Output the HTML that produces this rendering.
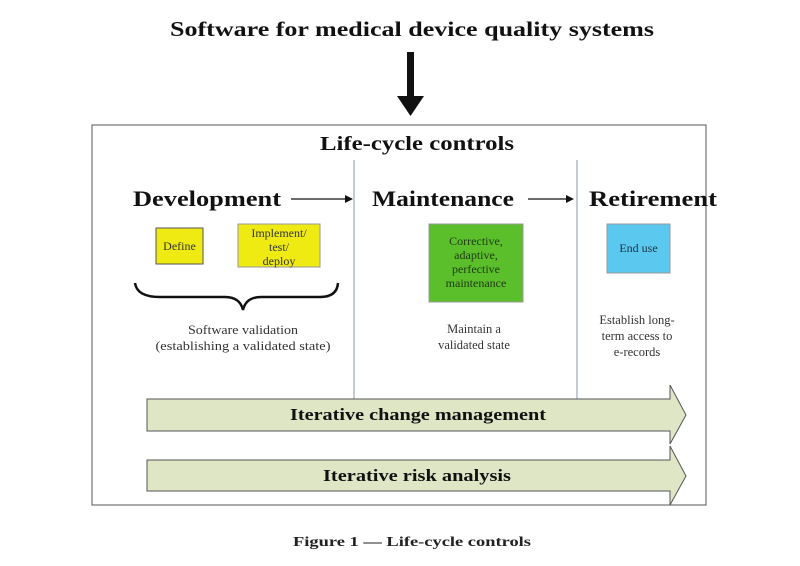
<!DOCTYPE html>
<html><head><style>
body{margin:0;background:#fff}
svg{display:block}
text{font-family:"Liberation Serif",serif}
</style></head><body>
<svg width="800" height="566" viewBox="0 0 800 566">
<text x="170" y="36" font-size="21" font-weight="bold" textLength="484" lengthAdjust="spacingAndGlyphs" fill="#111">Software for medical device quality systems</text>
<rect x="407" y="52" width="7" height="45" fill="#111"/>
<polygon points="397,96 424,96 410.5,116" fill="#111"/>
<rect x="92" y="125" width="614" height="380" fill="none" stroke="#555" stroke-width="1"/>
<text x="320" y="150" font-size="20" font-weight="bold" textLength="194" lengthAdjust="spacingAndGlyphs" fill="#111">Life-cycle controls</text>
<line x1="354" y1="160" x2="354" y2="400" stroke="#8a97a8" stroke-width="1"/>
<line x1="577" y1="160" x2="577" y2="400" stroke="#8a97a8" stroke-width="1"/>
<text x="133" y="206" font-size="22" font-weight="bold" textLength="148" lengthAdjust="spacingAndGlyphs" fill="#111">Development</text>
<text x="372" y="206" font-size="22" font-weight="bold" textLength="142" lengthAdjust="spacingAndGlyphs" fill="#111">Maintenance</text>
<text x="589" y="206" font-size="22" font-weight="bold" textLength="128" lengthAdjust="spacingAndGlyphs" fill="#111">Retirement</text>
<line x1="291" y1="199" x2="345" y2="199" stroke="#111" stroke-width="1.3"/>
<polygon points="345,195 353,199 345,203" fill="#111"/>
<line x1="528" y1="199" x2="566" y2="199" stroke="#111" stroke-width="1.3"/>
<polygon points="566,195 574,199 566,203" fill="#111"/>
<rect x="156" y="228" width="47" height="36" fill="#eeea12" stroke="#555"/>
<text x="179.5" y="250" font-size="12" text-anchor="middle" fill="#333">Define</text>
<rect x="238" y="224" width="82" height="43" fill="#eeea12" stroke="#999"/>
<text x="279" y="237" font-size="12" text-anchor="middle" fill="#333">Implement/</text>
<text x="279" y="251" font-size="12" text-anchor="middle" fill="#333">test/</text>
<text x="279" y="265" font-size="12" text-anchor="middle" fill="#333">deploy</text>
<path d="M135,283 Q137,297 160,297 L225,297 Q240,297 243,310 Q246,297 261,297 L320,297 Q337,297 338,283" fill="none" stroke="#111" stroke-width="2.5"/>
<text x="243" y="334" font-size="12.5" text-anchor="middle" textLength="110" lengthAdjust="spacingAndGlyphs" fill="#333">Software validation</text>
<text x="243" y="350" font-size="12.5" text-anchor="middle" textLength="175" lengthAdjust="spacingAndGlyphs" fill="#333">(establishing a validated state)</text>
<rect x="429" y="224" width="94" height="78" fill="#5bbf2c" stroke="#999"/>
<text x="476" y="245" font-size="12" text-anchor="middle" fill="#1f3a12">Corrective,</text>
<text x="476" y="259" font-size="12" text-anchor="middle" fill="#1f3a12">adaptive,</text>
<text x="476" y="273" font-size="12" text-anchor="middle" fill="#1f3a12">perfective</text>
<text x="476" y="287" font-size="12" text-anchor="middle" fill="#1f3a12">maintenance</text>
<text x="474" y="333" font-size="12.5" text-anchor="middle" fill="#333">Maintain a</text>
<text x="474" y="349" font-size="12.5" text-anchor="middle" fill="#333">validated state</text>
<rect x="607" y="224" width="63" height="49" fill="#5bc8f0" stroke="#999"/>
<text x="638.5" y="252" font-size="12" text-anchor="middle" fill="#1d3340">End use</text>
<text x="637" y="324" font-size="12.5" text-anchor="middle" fill="#333">Establish long-</text>
<text x="637" y="340" font-size="12.5" text-anchor="middle" fill="#333">term access to</text>
<text x="637" y="356" font-size="12.5" text-anchor="middle" fill="#333">e-records</text>
<polygon points="147,399 670,399 670,385 686,415 670,444 670,431 147,431" fill="#dfe6c6" stroke="#555" stroke-width="1"/>
<text x="290" y="420" font-size="17" font-weight="bold" textLength="256" lengthAdjust="spacingAndGlyphs" fill="#111">Iterative change management</text>
<polygon points="147,460 670,460 670,446 686,476 670,505 670,491 147,491" fill="#dfe6c6" stroke="#555" stroke-width="1"/>
<text x="323" y="481" font-size="17" font-weight="bold" textLength="188" lengthAdjust="spacingAndGlyphs" fill="#111">Iterative risk analysis</text>
<text x="293" y="546" font-size="14" font-weight="bold" textLength="238" lengthAdjust="spacingAndGlyphs" fill="#222">Figure 1 — Life-cycle controls</text>
</svg>
</body></html>
